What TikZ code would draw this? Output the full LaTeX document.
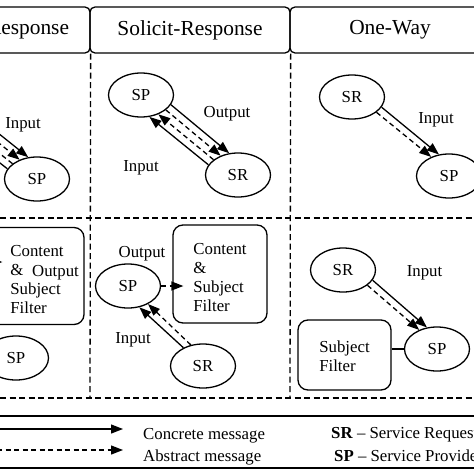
\documentclass[tikz,border=0pt]{standalone}
\usepackage{fontspec}
\setmainfont{Liberation Serif}
\usetikzlibrary{arrows.meta, positioning, shapes.geometric, calc}

\begin{document}
\begin{tikzpicture}[x=1pt, y=-1pt,
  svc/.style={ellipse, draw, line width=1.3pt, minimum width=65pt, minimum height=44pt,
              inner sep=0pt, font=\fontsize{16.8}{19}\selectfont},
  filter/.style={rectangle, draw, line width=1.3pt, rounded corners=10pt, align=left,
                 inner sep=0pt, font=\fontsize{16.8}{19}\selectfont},
  hdr/.style={rectangle, draw, line width=1.3pt, rounded corners=5pt, minimum width=200pt,
              minimum height=46pt, inner sep=0pt, font=\fontsize{21.4}{24}\selectfont},
  lbl/.style={inner sep=0pt, anchor=base, font=\fontsize{16.8}{19}\selectfont},
  concrete/.style={-{Triangle[length=12pt,width=9pt]}, line width=1.3pt},
  abstract/.style={concrete, dash pattern=on 5pt off 3.5pt},
  frame/.style={line width=1.3pt, dash pattern=on 6pt off 3.5pt}
]
\useasboundingbox (0,0) rectangle (474,474);
\clip (0,0) rectangle (474,474);

% column headers
\node[hdr] (hreq) at (-10,30) {Request-Response};
\node[hdr] (hsol) at (190,30) {Solicit-Response};
\node[hdr] (hone) at (390,30) {One-Way};

% dashed grid
\draw[frame] (hreq.south east) -- (90,398);
\draw[frame] (hsol.south east) -- (290,398);
\draw[frame] (0,218) -- (474,218);
\draw[frame] (0,398) -- (474,398);

% top row
\node[svc] (lsr) at (-61,100) {SR};
\node[svc] (lsp) at (37,179) {SP};
\node[svc] (msp) at (141,95) {SP};
\node[svc] (msr) at (238,175) {SR};
\node[svc] (rsr) at (352,97) {SR};
\node[svc] (rsp) at (449,176) {SP};

\draw[concrete] (lsr.-18) -- (lsp.112);
\draw[abstract] (lsr.-31) -- (lsp.132);
\draw[abstract] (lsp.148) -- (lsr.-48);
\draw[concrete] (lsp.161) -- (lsr.-69);
\node[lbl] (lin) at (23,128) {Input};

\draw[concrete] (msp.-18) -- (msr.112);
\draw[abstract] (msp.-31) -- (msr.132);
\draw[abstract] (msr.148) -- (msp.-48);
\draw[concrete] (msr.161) -- (msp.-69);
\node[lbl] (mout) at (227,117) {Output};
\node[lbl] (min) at (141,171) {Input};

\draw[concrete] (rsr.-19) -- (rsp.115);
\draw[abstract] (rsr.-32) -- (rsp.133);
\node[lbl] (rin) at (436,123) {Input};

% bottom row
\node[filter, minimum width=94pt, minimum height=97pt] (lflt) at (37,276)
  {\rule{0pt}{19pt}Content\\\&\\Subject\\Filter};
\node[lbl, anchor=base west] (lout) at (32,276) {Output};
\node[svc] (lsp2) at (16,358) {SP};
\coordinate (lsrc) at (-40,262);
\draw[abstract] (lsrc) -- ($(lflt.west |- lsrc)+(13,0)$);

\node[svc] (msp2) at (128,286) {SP};
\node[filter, minimum width=94pt, minimum height=98pt] (mflt) at (220,274)
  {\rule{0pt}{19pt}Content\\\&\\Subject\\Filter};
\node[svc] (msr2) at (203,366) {SR};
\draw[abstract] (msp2.east) -- ($(mflt.west |- msp2.east)+(11,0)$);
\draw[concrete] (msr2.137) -- (msp2.-62);
\draw[abstract] (msr2.120) -- (msp2.-42);
\node[lbl] (mout2) at (142,257) {Output};
\node[lbl] (min2) at (133,343) {Input};

\node[svc] (rsr2) at (343,270) {SR};
\node[svc] (rsp2) at (437,349) {SP};
\node[filter, minimum width=93pt, minimum height=70pt] (rflt) at (344.5,355)
  {\rule{0pt}{14pt}Subject\\Filter};
\draw[line width=1.3pt] (rsp2.west) -- (rsp2.west -| rflt.east);
\draw[concrete] (rsr2.-19) -- (rsp2.115);
\draw[abstract] (rsr2.-32) -- (rsp2.133);
\node[lbl] (rin2) at (424.5,276) {Input};

% legend
\draw[line width=1.3pt] (-5,416) rectangle (479,468);
\coordinate (cfrom) at (-20,429);
\coordinate (cto) at (123,429);
\coordinate (afrom) at (-20,450);
\coordinate (ato) at (123,450);
\draw[concrete] (cfrom) -- (cto);
\draw[abstract] (afrom) -- (ato);
\node[lbl, anchor=base west] (lgconc) at (143,439) {Concrete message};
\node[lbl, anchor=base west] (lgabs) at (143,461) {Abstract message};
\node[lbl, anchor=base west] (lgsr) at (331,438) {\textbf{SR} -- Service Requester};
\node[lbl, anchor=base west] (lgsp) at (334,461) {\textbf{SP} -- Service Provider};
\end{tikzpicture}
\end{document}
